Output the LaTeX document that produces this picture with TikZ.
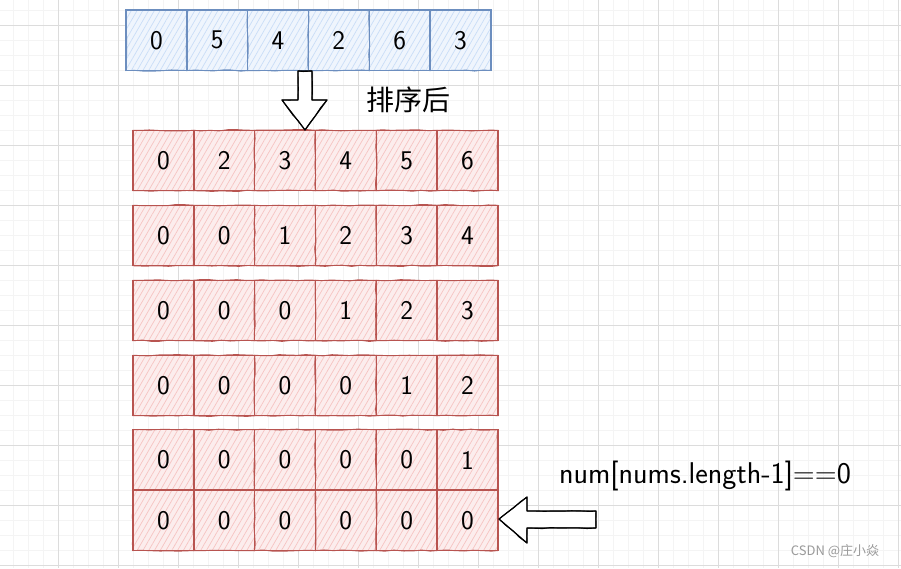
\documentclass[tikz,border=0pt]{standalone}
\usepackage{fontspec}
\newfontfamily\cjk{Noto Sans CJK SC}
\usetikzlibrary{patterns.meta,decorations.pathmorphing}
\definecolor{bluestroke}{HTML}{6C8EBF}
\definecolor{bluefill}{HTML}{C9DDF7}
\definecolor{redstroke}{HTML}{B85450}
\definecolor{redfill}{HTML}{F6C4C2}
\definecolor{gridmajor}{HTML}{DCDCDC}
\definecolor{gridminor}{HTML}{F4F4F4}
\definecolor{wmark}{HTML}{9A9A9A}
\tikzset{
  sketch/.style={postaction={draw=#1, decorate, line width=0.9pt,
      decoration={random steps, segment length=9pt, amplitude=0.7pt}}},
  cell/.style={rectangle, minimum width=60.8pt, minimum height=60.5pt,
      inner sep=0pt, line width=1.4pt,
      font=\sffamily\fontsize{27}{27}\selectfont},
  bluecell/.style={cell, draw=bluestroke,
      preaction={fill=bluefill!30},
      pattern={Lines[angle=60,distance=5pt,line width=0.7pt]},
      pattern color=bluefill, sketch=bluestroke},
  redcell/.style={cell, draw=redstroke,
      preaction={fill=redfill!30},
      pattern={Lines[angle=60,distance=5pt,line width=0.7pt]},
      pattern color=redfill, sketch=redstroke},
  blockarrow/.style={draw=black, fill=white, line width=1.2pt, line join=round,
      sketch=black},
  label/.style={inner sep=0pt},
}
\begin{document}
\begin{tikzpicture}[x=1pt,y=-1pt]
\useasboundingbox (0,0) rectangle (901,568);
\fill[white] (0,0) rectangle (901,568);
% grid
\foreach \x in {0,...,60} {\draw[gridminor, line width=0.8pt] (13.7+15*\x,0) -- (13.7+15*\x,568);}
\foreach \y in {0,...,38} {\draw[gridminor, line width=0.8pt] (0,10.3+15*\y) -- (901,10.3+15*\y);}
\foreach \x in {0,...,14} {\draw[gridmajor, line width=0.8pt] (58.7+60*\x,0) -- (58.7+60*\x,568);}
\foreach \y in {0,...,9} {\draw[gridmajor, line width=0.8pt] (0,25.3+60*\y) -- (901,25.3+60*\y);}
% top blue row
\foreach \v [count=\c] in {0,5,4,2,6,3} {
  \node[bluecell] (b\c) at (126+30.4+60.8*\c-60.8, 40.3) {\v};
}
% red rows
\foreach \r/\yy/\vals in {1/160.5/{0,2,3,4,5,6}, 2/235.5/{0,0,1,2,3,4},
    3/310.5/{0,0,0,1,2,3}, 4/385.5/{0,0,0,0,1,2}, 5/460/{0,0,0,0,0,1},
    6/520.3/{0,0,0,0,0,0}} {
  \foreach \v [count=\c] in \vals {
    \node[redcell] (r\r c\c) at (133+30.4+60.8*\c-60.8, \yy) {\v};
  }
}
% down arrow
\coordinate (dtip) at (305,130);
\draw[blockarrow] (298,71) -- (298,100) -- (282,100) -- (dtip) -- (327,100)
   -- (312,100) -- (312,71) -- cycle;
\node[label, font=\cjk\fontsize{28}{28}\selectfont] (sorted) at (408,100) {排序后};
% left arrow
\coordinate (ltip) at (499,519);
\draw[blockarrow] (ltip) -- (527,497) -- (527,511) -- (596,511) -- (596,528)
   -- (527,528) -- (527,543) -- cycle;
\node[label, font=\sffamily\fontsize{30}{30}\selectfont] (cond) at (705,476) {num[nums.length-1]==0};
\node[label, text=wmark, font=\cjk\fontsize{13}{13}\selectfont] (wm) at (835,551) {CSDN @庄小焱};
\end{tikzpicture}
\end{document}
